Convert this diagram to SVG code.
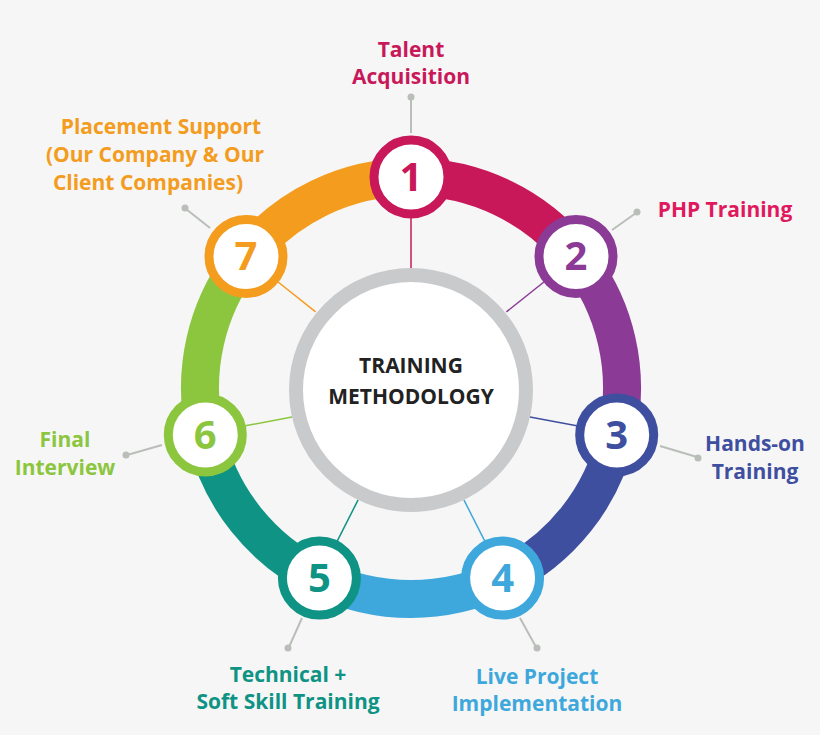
<svg xmlns="http://www.w3.org/2000/svg" width="820" height="735" viewBox="0 0 820 735">
<style>
.seg{fill:none;stroke-width:38}
.node{fill:#fff;stroke-width:9}
.num{font-family:"Open Sans","Liberation Sans",sans-serif;font-weight:bold;font-size:40px;text-anchor:middle}
.lbl{font-family:"Open Sans","Liberation Sans",sans-serif;font-weight:bold;font-size:21px;text-anchor:middle}
.lead{stroke:#b9beb9;stroke-width:2}
.dot{fill:#b9beb9}
.sp{stroke-width:1.5}
</style>
<rect width="820" height="735" fill="#f6f6f6"/>
<g id="connectors">
<path class="seg" stroke="#c8185a" d="M411 177A211 211 0 0 1 576 256.4"/>
<path class="seg" stroke="#8b3a96" d="M576 256.4A211 211 0 0 1 616.7 434.9"/>
<path class="seg" stroke="#3f4fa0" d="M616.7 434.9A211 211 0 0 1 502.6 578.1"/>
<path class="seg" stroke="#3ea8dc" d="M502.6 578.1A211 211 0 0 1 319.4 578.1"/>
<path class="seg" stroke="#0e9384" d="M319.4 578.1A211 211 0 0 1 205.3 434.9"/>
<path class="seg" stroke="#8cc63f" d="M205.3 434.9A211 211 0 0 1 246 256.4"/>
<path class="seg" stroke="#f39c1e" d="M246 256.4A211 211 0 0 1 411 177"/>
<line class="sp" stroke="#c8185a" x1="411" y1="268" x2="411" y2="218"/>
<line class="sp" stroke="#8b3a96" x1="506.4" y1="311.9" x2="543.9" y2="282"/>
<line class="sp" stroke="#3f4fa0" x1="529.9" y1="417.1" x2="576.7" y2="425.8"/>
<line class="sp" stroke="#3ea8dc" x1="463.9" y1="499.9" x2="484.8" y2="541.2"/>
<line class="sp" stroke="#0e9384" x1="358.1" y1="499.9" x2="337.2" y2="541.2"/>
<line class="sp" stroke="#8cc63f" x1="292.1" y1="417.1" x2="245.3" y2="425.8"/>
<line class="sp" stroke="#f39c1e" x1="315.6" y1="311.9" x2="278.1" y2="282"/>
<line class="lead" x1="411" y1="133" x2="411" y2="98"/><circle class="dot" cx="411" cy="97" r="3.5"/>
<line class="lead" x1="612" y1="230" x2="636" y2="213"/><circle class="dot" cx="637" cy="212" r="3.5"/>
<line class="lead" x1="660" y1="446" x2="697" y2="457"/><circle class="dot" cx="698" cy="458" r="3.5"/>
<line class="lead" x1="520" y1="618" x2="536" y2="647"/><circle class="dot" cx="537" cy="648" r="3.5"/>
<line class="lead" x1="302" y1="618" x2="289" y2="647"/><circle class="dot" cx="288" cy="648" r="3.5"/>
<line class="lead" x1="162" y1="445" x2="127" y2="455"/><circle class="dot" cx="126" cy="455" r="3.5"/>
<line class="lead" x1="210" y1="228" x2="186" y2="209"/><circle class="dot" cx="185" cy="208" r="3.5"/>
</g>
<g id="center">
<circle cx="411" cy="390" r="115" fill="#fff" stroke="#c9cacc" stroke-width="14"/>
<text class="lbl" x="411" y="373" fill="#222" font-size="24">TRAINING</text>
<text class="lbl" x="411" y="404" fill="#222" font-size="24">METHODOLOGY</text>
</g>
<g id="n1"><circle class="node" cx="411" cy="177" r="37" stroke="#c8185a"/><text class="num" x="411" y="191" fill="#c8185a">1</text>
<text class="lbl" x="411" y="57" fill="#c8185a">Talent</text><text class="lbl" x="411" y="84" fill="#c8185a">Acquisition</text></g>
<g id="n2"><circle class="node" cx="576" cy="256.4" r="37" stroke="#8b3a96"/><text class="num" x="576" y="270.4" fill="#8b3a96">2</text>
<text class="lbl" x="725" y="217" fill="#e0195e">PHP Training</text></g>
<g id="n3"><circle class="node" cx="616.7" cy="434.9" r="37" stroke="#3f4fa0"/><text class="num" x="616.7" y="448.9" fill="#3f4fa0">3</text>
<text class="lbl" x="755" y="451" fill="#3f4fa0">Hands-on</text><text class="lbl" x="755" y="479" fill="#3f4fa0">Training</text></g>
<g id="n4"><circle class="node" cx="502.6" cy="578.1" r="37" stroke="#3ea8dc"/><text class="num" x="502.6" y="592.1" fill="#3ea8dc">4</text>
<text class="lbl" x="537" y="684" fill="#3ea8dc">Live Project</text><text class="lbl" x="537" y="711" fill="#3ea8dc">Implementation</text></g>
<g id="n5"><circle class="node" cx="319.4" cy="578.1" r="37" stroke="#0e9384"/><text class="num" x="319.4" y="592.1" fill="#0e9384">5</text>
<text class="lbl" x="288" y="682" fill="#0e9384">Technical +</text><text class="lbl" x="288" y="709" fill="#0e9384">Soft Skill Training</text></g>
<g id="n6"><circle class="node" cx="205.3" cy="434.9" r="37" stroke="#8cc63f"/><text class="num" x="205.3" y="448.9" fill="#8cc63f">6</text>
<text class="lbl" x="65" y="447" fill="#8cc63f">Final</text><text class="lbl" x="65" y="475" fill="#8cc63f">Interview</text></g>
<g id="n7"><circle class="node" cx="246" cy="256.4" r="37" stroke="#f39c1e"/><text class="num" x="246" y="270.4" fill="#f39c1e">7</text>
<text class="lbl" x="161" y="134" fill="#f39c1e">Placement Support</text><text class="lbl" x="155" y="162" fill="#f39c1e">(Our Company &amp; Our</text><text class="lbl" x="148" y="190" fill="#f39c1e">Client Companies)</text></g>
</svg>
